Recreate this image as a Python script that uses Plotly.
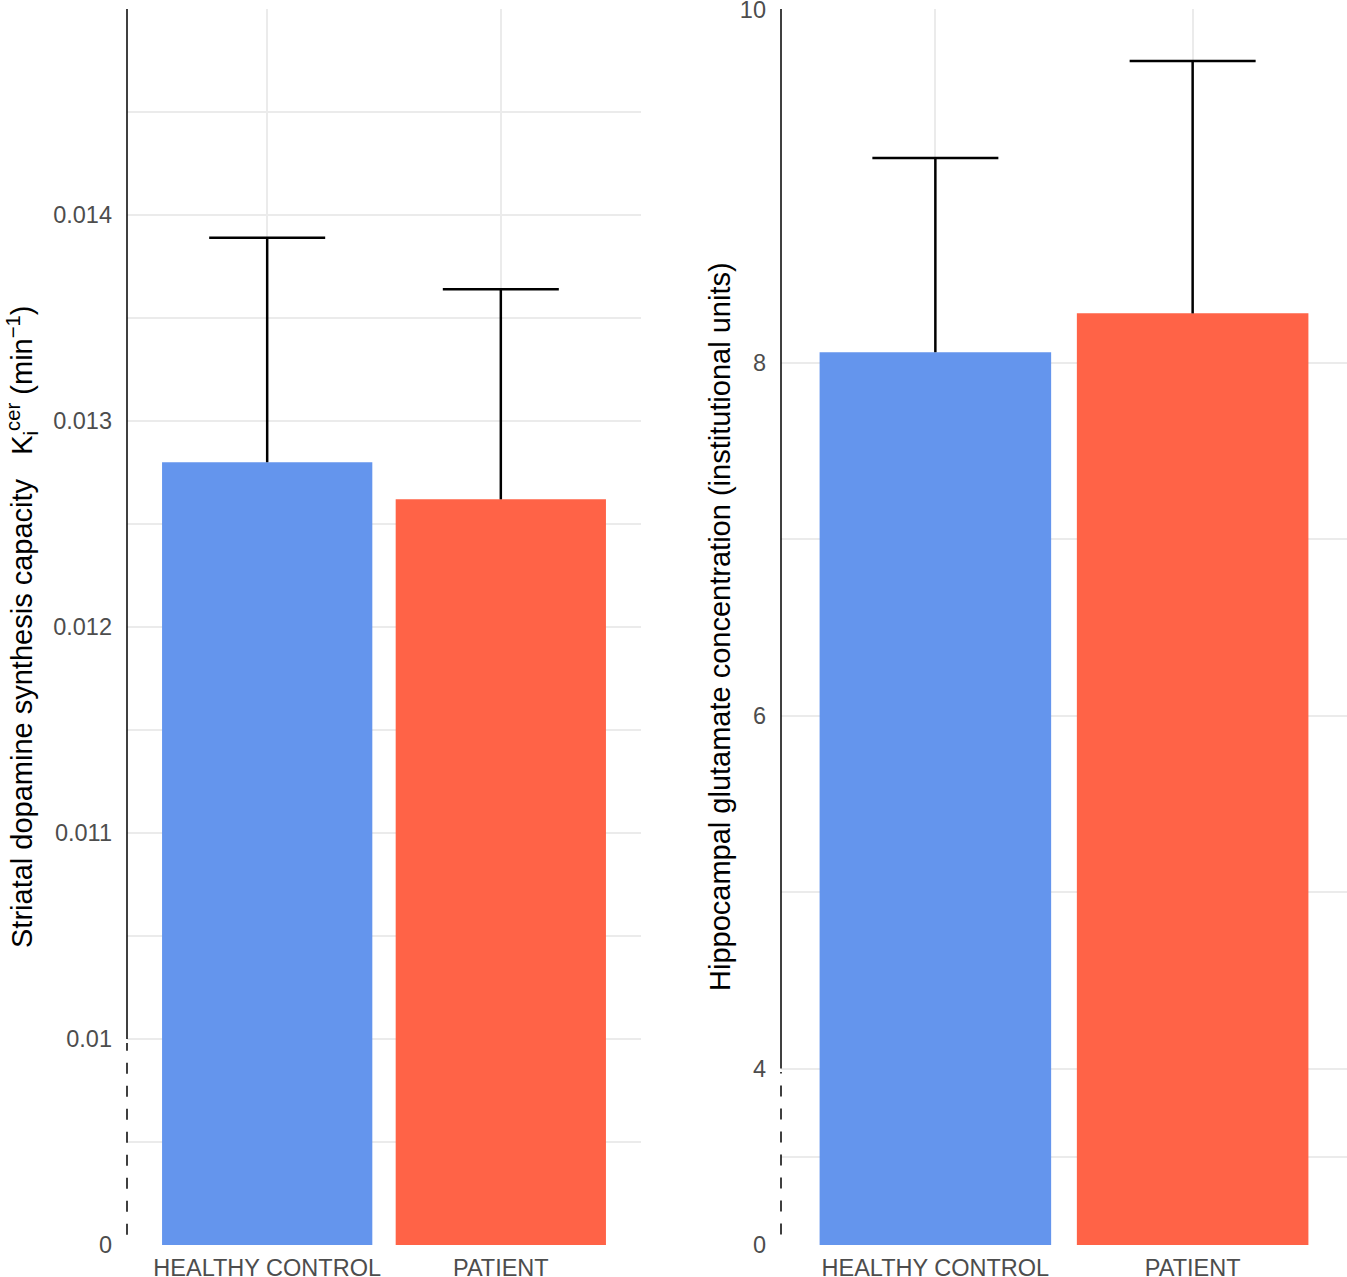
import plotly.graph_objects as go

# ---- data ----
groups = ["HEALTHY CONTROL", "PATIENT"]
bar_colors = ["#6495ED", "#FF6347"]

# left panel: striatal dopamine synthesis capacity (Ki cer, min^-1)
dopa_mean = [0.01280, 0.01262]
dopa_upper = [0.01389, 0.01364]
dopa_ticks = [0, 0.01, 0.011, 0.012, 0.013, 0.014]
dopa_ticktext = ["0", "0.01", "0.011", "0.012", "0.013", "0.014"]
dopa_minor = [0.005, 0.0105, 0.0115, 0.0125, 0.0135, 0.0145]

# right panel: hippocampal glutamate (institutional units)
glu_mean = [8.06, 8.28]
glu_upper = [9.16, 9.71]
glu_ticks = [0, 4, 6, 8, 10]
glu_ticktext = ["0", "4", "6", "8", "10"]
glu_minor = [2, 5, 7]


# broken axes: the stretch below the first break is squeezed into one unit
def dopa_pos(v):
    return v / 0.01 if v < 0.01 else 1 + (v - 0.01) / 0.001


def glu_pos(v):
    return v / 4 if v < 4 else v - 3


FONT = "Arial, Liberation Sans, sans-serif"
GRID = "#ebebeb"
TICK_COL = "#4d4d4d"

fig = go.Figure()


def add_panel(mean, upper, pos, xa, ya, cap):
    y = [pos(v) for v in mean]
    y_up = [pos(v) for v in upper]
    # bars with upward whisker (no shoe: width 0)
    fig.add_trace(go.Bar(
        x=groups, y=y, width=0.9,
        marker=dict(color=bar_colors, line=dict(width=0)),
        error_y=dict(type='data', symmetric=False,
                     array=[u - m for u, m in zip(y_up, y)],
                     arrayminus=[0] * len(y),
                     width=0, thickness=2.5, color='black'),
        xaxis=xa, yaxis=ya, showlegend=False, hoverinfo='skip'
    ))
    # caps on top of whiskers
    fig.add_trace(go.Scatter(
        x=groups, y=y_up, mode='markers',
        marker=dict(size=1, opacity=0),
        error_y=dict(type='data', array=[0] * len(y_up),
                     width=cap, thickness=2.5, color='black'),
        xaxis=xa, yaxis=ya, showlegend=False, hoverinfo='skip'
    ))


add_panel(dopa_mean, dopa_upper, dopa_pos, 'x', 'y', 58)
add_panel(glu_mean, glu_upper, glu_pos, 'x2', 'y2', 63)

W, H = 1347, 1277
dom_y = [1 - 1245 / H, 1 - 9 / H]

xaxis_common = dict(
    type='category', range=[-0.6, 1.6], showgrid=True, gridcolor=GRID,
    gridwidth=2, zeroline=False, showline=False, ticks='',
    tickfont=dict(family=FONT, size=23.5, color=TICK_COL),
    ticklabelstandoff=6, automargin=False
)
yaxis_common = dict(
    showgrid=True, gridcolor=GRID, gridwidth=2, zeroline=False,
    showline=False, ticks='', tickmode='array', domain=dom_y,
    tickfont=dict(family=FONT, size=23.5, color=TICK_COL),
    ticklabelstandoff=14, ticklabeloverflow='allow', automargin=False
)

fig.update_layout(
    width=W, height=H,
    margin=dict(l=0, r=0, t=0, b=0),
    paper_bgcolor='white', plot_bgcolor='white',
    font=dict(family=FONT),
    xaxis=dict(xaxis_common, domain=[127 / W, 641 / W], anchor='y'),
    xaxis2=dict(xaxis_common, domain=[781 / W, 1.0], anchor='y2'),
    yaxis=dict(
        yaxis_common, anchor='x', range=[0, dopa_pos(0.015)],
        tickvals=[dopa_pos(v) for v in dopa_ticks], ticktext=dopa_ticktext,
        minor=dict(tickvals=[dopa_pos(v) for v in dopa_minor], showgrid=True,
                   gridcolor=GRID, gridwidth=1.5, ticks='')
    ),
    yaxis2=dict(
        yaxis_common, anchor='x2', range=[0, glu_pos(10) + 0.005],
        tickvals=[glu_pos(v) for v in glu_ticks], ticktext=glu_ticktext,
        minor=dict(tickvals=[glu_pos(v) for v in glu_minor], showgrid=True,
                   gridcolor=GRID, gridwidth=1.5, ticks='')
    ),
    shapes=[
        # left axis: solid above the break, dashed below
        dict(type='line', xref='x domain', yref='y', x0=0, x1=0,
             y0=dopa_pos(0.01), y1=dopa_pos(0.015),
             line=dict(color='black', width=1.5)),
        dict(type='line', xref='x domain', yref='y', x0=0, x1=0,
             y0=0.05, y1=dopa_pos(0.01) - 0.02,
             line=dict(color='black', width=1.5, dash='11px,12px')),
        dict(type='line', xref='x2 domain', yref='y2', x0=0, x1=0,
             y0=glu_pos(4), y1=glu_pos(10) + 0.005,
             line=dict(color='black', width=1.5)),
        dict(type='line', xref='x2 domain', yref='y2', x0=0, x1=0,
             y0=0.06, y1=glu_pos(4) - 0.02,
             line=dict(color='black', width=1.5, dash='11px,12px')),
    ],
    annotations=[
        dict(text="Striatal dopamine synthesis capacity\u00a0\u00a0\u00a0K<sub>i</sub><sup>cer</sup>\u00a0(min<sup>\u22121</sup>)",
             xref='paper', yref='paper', x=22 / W, y=sum(dom_y) / 2,
             textangle=-90, showarrow=False, xanchor='center', yanchor='middle',
             font=dict(family=FONT, size=29, color='black')),
        dict(text="Hippocampal glutamate concentration (institutional units)",
             xref='paper', yref='paper', x=720 / W, y=sum(dom_y) / 2,
             textangle=-90, showarrow=False, xanchor='center', yanchor='middle',
             font=dict(family=FONT, size=29, color='black')),
    ],
)

fig.write_html("out.html", config={'displayModeBar': False},
               post_script="document.body.style.margin='0';")
